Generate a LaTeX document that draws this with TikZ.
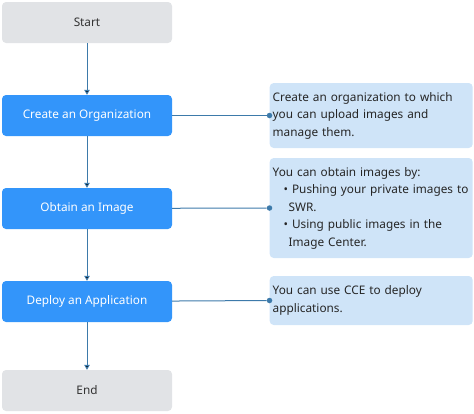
\documentclass[tikz,border=0pt]{standalone}
\usepackage{fontspec}
\setmainfont{Noto Sans}
\usetikzlibrary{positioning,arrows.meta}

\definecolor{termgray}{HTML}{E1E3E6}
\definecolor{actblue}{HTML}{3395FA}
\definecolor{noteblue}{HTML}{CFE4F8}
\definecolor{linecol}{HTML}{3D7AAA}
\definecolor{textgray}{HTML}{333333}

\begin{document}
\begin{tikzpicture}[x=1pt,y=-1pt,node distance=93pt,on grid,
	box/.style={rectangle,rounded corners=4pt,minimum width=170pt,minimum height=41pt,font=\fontsize{11.8}{14}\selectfont},
	term/.style={box,fill=termgray,text=textgray},
	act/.style={box,fill=actblue,text=white},
	note/.style={rectangle,rounded corners=4pt,fill=noteblue,anchor=west,text width=197pt,inner sep=3pt,align=left,text=black!85,font=\fontsize{11.8}{17.5}\selectfont},
	flow/.style={draw=linecol,line width=1pt,-{Triangle[length=5pt,width=5.5pt]}},
	link/.style={draw=linecol,line width=1pt},
	dot/.style={circle,fill=linecol,inner sep=0pt,minimum size=5.5pt}]

	\useasboundingbox (0,0) rectangle (474,413);

	\node[term] (start) at (87,22.5) {Start};
	\node[act] (create) [below=of start] {Create an Organization};
	\node[act] (obtain) [below=of create] {Obtain an Image};
	\node[act] (deploy) [below=of obtain] {Deploy an Application};
	\node[term] (end) [below=89pt of deploy] {End};

	\node[note,minimum height=65pt] (createnote) at (269.5,115.5)
		{Create an organization to which\\you can upload images and\\manage them.};
	\node[note,minimum height=100pt] (obtainnote) at (269.5,208)
		{You can obtain images by:\\
		\hspace*{11pt}\textbullet\ Pushing your private images to\\
		\hspace*{16pt}SWR.\\
		\hspace*{11pt}\textbullet\ Using public images in the\\
		\hspace*{16pt}Image Center.};
	\node[note,minimum height=49pt] (deploynote) at (269.5,300.5)
		{You can use CCE to deploy\\applications.};

	\node[dot] (createdot) at (createnote.west) {};
	\node[dot] (obtaindot) at (obtainnote.west) {};
	\node[dot] (deploydot) at (deploynote.west) {};

	\path[flow]
		(start) edge (create)
		(create) edge (obtain)
		(obtain) edge (deploy)
		(deploy) edge (end);

	\path[link]
		(create) edge (createdot)
		(obtain) edge (obtaindot)
		(deploy) edge (deploydot);

\end{tikzpicture}
\end{document}
